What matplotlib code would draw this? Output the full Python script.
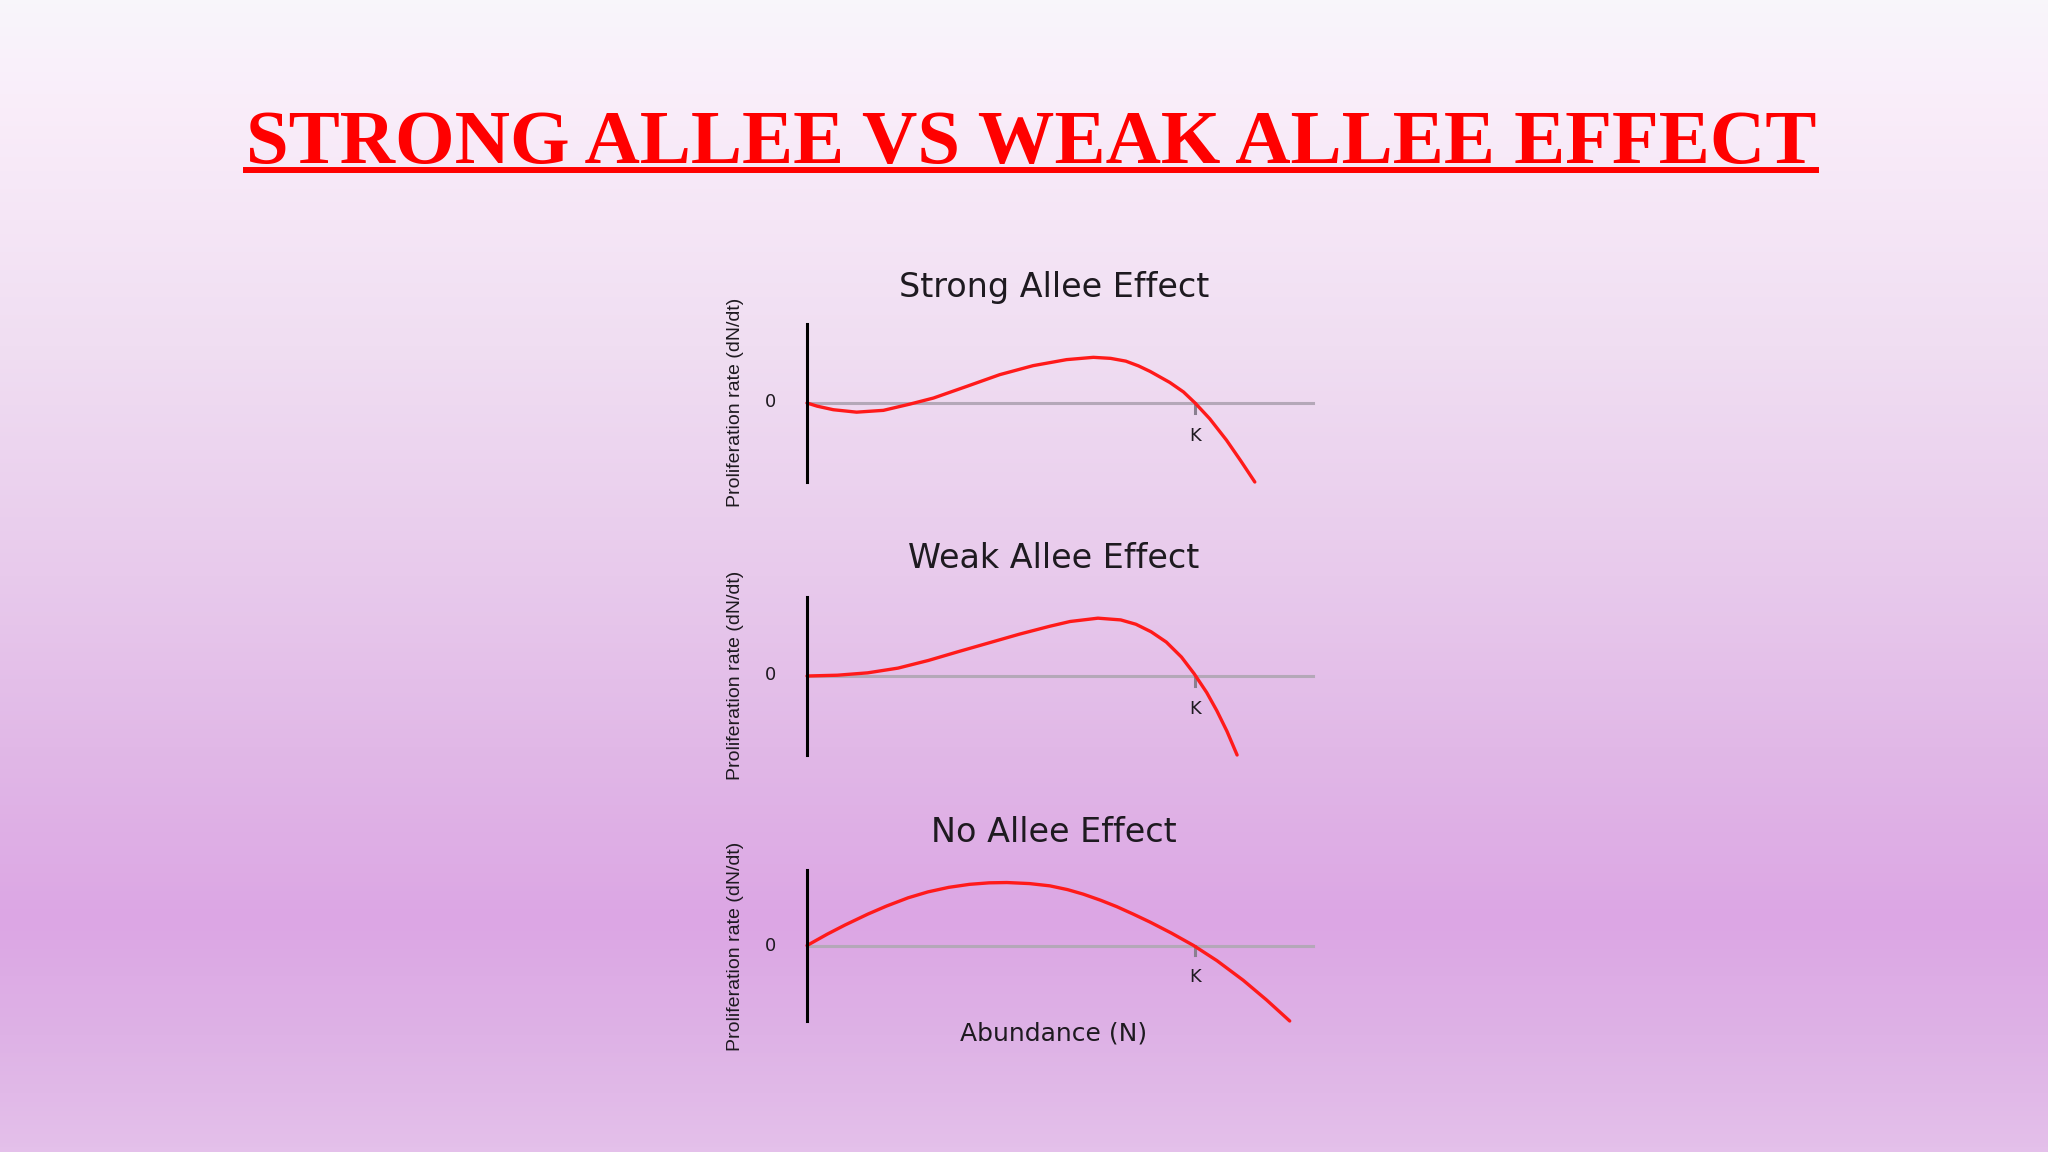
import numpy as np
import matplotlib
matplotlib.use("Agg")
import matplotlib.pyplot as plt
from matplotlib.colors import LinearSegmentedColormap
from matplotlib.lines import Line2D

# curves: x is abundance (zero line end = 1), y is rate (axis ends = +-1)
strong_x = [0.0, 0.02, 0.052, 0.098, 0.151, 0.204, 0.25, 0.316, 0.381, 0.447, 0.513, 0.566,
            0.60, 0.63, 0.655, 0.678, 0.717, 0.744, 0.767, 0.796, 0.829, 0.857, 0.885]
strong_y = [0.0, -0.04, -0.085, -0.116, -0.093, -0.013, 0.063, 0.211, 0.359, 0.473, 0.549, 0.578,
            0.565, 0.53, 0.47, 0.40, 0.26, 0.14, 0.0, -0.20, -0.47, -0.73, -1.0]

weak_x = [0.0, 0.06, 0.12, 0.18, 0.24, 0.30, 0.36, 0.42, 0.48, 0.52, 0.575, 0.62, 0.65,
          0.68, 0.71, 0.74, 0.765, 0.79, 0.81, 0.83, 0.85]
weak_y = [0.0, 0.01, 0.04, 0.10, 0.197, 0.31, 0.42, 0.53, 0.63, 0.69, 0.732, 0.71, 0.655,
          0.56, 0.43, 0.24, 0.03, -0.21, -0.44, -0.70, -1.0]

none_x = [0.0, 0.04, 0.075, 0.12, 0.157, 0.20, 0.239, 0.28, 0.321, 0.36, 0.395, 0.44, 0.48,
          0.515, 0.546, 0.58, 0.612, 0.645, 0.678, 0.72, 0.764, 0.81, 0.862, 0.908, 0.954]
none_y = [0.0, 0.15, 0.271, 0.415, 0.522, 0.632, 0.71, 0.77, 0.81, 0.83, 0.834, 0.82, 0.79,
          0.74, 0.68, 0.60, 0.515, 0.415, 0.31, 0.165, 0.0, -0.20, -0.46, -0.72, -1.0]

K = 0.767
panel_titles = ["Strong Allee Effect", "Weak Allee Effect", "No Allee Effect"]
main_title = "STRONG ALLEE VS WEAK ALLEE EFFECT"
ylabel = "Proliferation rate (dN/dt)"
xlabel = "Abundance (N)"

W, H = 2048, 1152
fig = plt.figure(figsize=(W / 100, H / 100), dpi=100)

# background gradient
bg = fig.add_axes([0, 0, 1, 1])
bg.axis("off")
stops = [(0.0, (248, 246, 250)), (0.08, (250, 238, 250)), (0.3, (240, 222, 242)),
         (0.5, (232, 202, 236)), (0.65, (225, 184, 231)), (0.8, (220, 166, 228)),
         (0.9, (222, 178, 230)), (1.0, (228, 192, 234))]
cmap = LinearSegmentedColormap.from_list("bg", [(p, tuple(c / 255 for c in rgb)) for p, rgb in stops])
bg.imshow(np.linspace(0, 1, 256).reshape(-1, 1), aspect="auto", cmap=cmap,
          extent=[0, 1, 0, 1], origin="upper")
bg.set_xlim(0, 1)
bg.set_ylim(0, 1)

# main title, fitted to its width in the reference
t = fig.text(1031 / W, 1 - 163 / H, main_title, ha="center", va="baseline",
             color="#ff0000", fontsize=55, fontweight="bold", family="Liberation Serif")
fig.canvas.draw()
tw = t.get_window_extent().width
t.set_fontsize(55 * 1572 / tw)
fig.canvas.draw()
ext = t.get_window_extent()
fig.add_artist(Line2D([ext.x0 / W, ext.x1 / W], [1 - 170 / H] * 2, color="#ff0000",
                      lw=4.3, transform=fig.transFigure))

# panel geometry in pixels: (top, zero, bottom, title y)
panels = [(324, 402, 482, 287), (597, 675, 755, 559), (870, 946, 1021, 832)]
curves = [(strong_x, strong_y), (weak_x, weak_y), (none_x, none_y)]
left, right = 807, 1313
text_col = "#1e1a20"

for (top, zero, bottom, ty), (cx, cy), title in zip(panels, curves, panel_titles):
    ax = fig.add_axes([left / W, 1 - bottom / H, (right - left) / W, (bottom - top) / H])
    ax.set_xlim(0, 1)
    ax.set_ylim(-1, 1)
    ax.axis("off")
    ax.patch.set_alpha(0)
    ax.plot([0, 1], [0, 0], color="#b4a8b8", lw=2.2, clip_on=False, zorder=1)
    ax.plot([K, K], [0, -0.13], color="#8a8090", lw=2.2, clip_on=False, zorder=1)
    ax.plot(cx, cy, color="#ff1a1a", lw=2.4, clip_on=False, zorder=3,
            solid_joinstyle="round", solid_capstyle="round")
    ax.plot([0, 0], [-1, 1], color="black", lw=2.2, clip_on=False, zorder=4)
    ax.text(K, -0.42, "K", ha="center", va="center", fontsize=13, color=text_col,
            family="DejaVu Sans")
    fig.text(771 / W, 1 - zero / H, "0", ha="center", va="center", fontsize=13,
             color=text_col, family="DejaVu Sans")
    fig.text(735 / W, 1 - zero / H, ylabel, rotation=90, ha="center", va="center",
             fontsize=14, color=text_col, family="Liberation Sans")
    fig.text(1054 / W, 1 - ty / H, title, ha="center", va="center", fontsize=24,
             color=text_col, family="DejaVu Sans")

fig.text(1054 / W, 1 - 1034 / H, xlabel, ha="center", va="center", fontsize=18,
         color=text_col, family="DejaVu Sans")

fig.savefig("out.png", dpi=100)
